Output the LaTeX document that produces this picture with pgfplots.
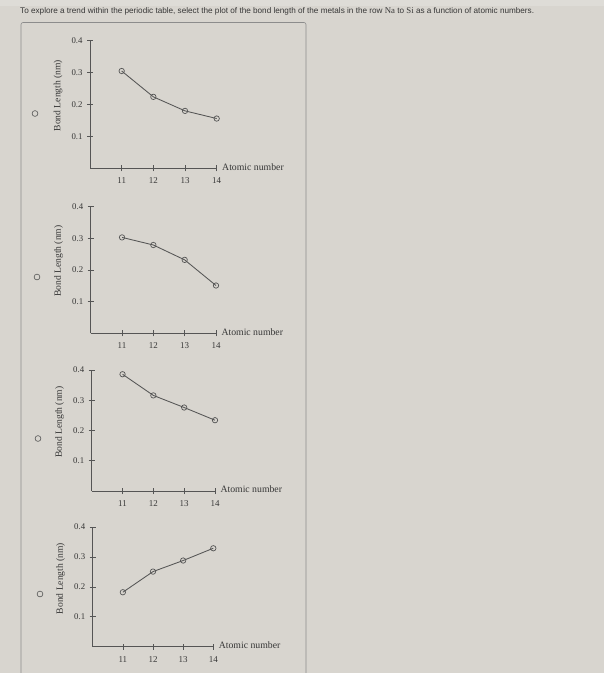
\documentclass[border=0pt]{standalone}
\usepackage{fontspec}
\setmainfont{Liberation Serif}
\newfontfamily\uisans{Liberation Sans}
\usepackage{pgfplots}
\pgfplotsset{compat=1.18}
\definecolor{bg}{RGB}{216,213,207}
\definecolor{bgtop}{RGB}{222,220,215}
\definecolor{linegray}{RGB}{85,85,85}
\definecolor{txt}{RGB}{55,55,55}
\definecolor{boxgray}{RGB}{140,140,140}
\pgfplotsset{
  ser/.style={draw=linegray, line width=0.85bp, mark=o,
      mark size=2.7bp, mark options={solid, draw=linegray, line width=0.7bp, fill=none}},
  panel/.style={
    scale only axis,
    anchor=south west,
    axis lines*=left,
    axis line style={draw=linegray, line width=0.7bp},
    xmin=10, xmax=14, ymin=0, ymax=0.4,
    xtick={11,12,13,14}, ytick={0.1,0.2,0.3,0.4},
    tick align=center, major tick length=6bp,
    tick style={draw=linegray, line width=0.7bp},
    /pgf/number format/assume math mode=true,
    yticklabel style={/pgf/number format/fixed, /pgf/number format/precision=1,
      /pgf/number format/fixed zerofill, font=\fontsize{8.8}{9}\selectfont, text=txt, xshift=-1bp},
    xticklabel style={font=\fontsize{9}{9}\selectfont, text=txt, yshift=-3bp},
    ylabel={Bond Length (nm)},
    every axis y label/.style={at={(rel axis cs:0,0.57)}, xshift=-32bp, rotate=90, anchor=center,
      font=\fontsize{9.6}{10}\selectfont, text=txt},
    clip=false,
    after end axis/.code={\node[anchor=west, font=\fontsize{9.8}{10}\selectfont, text=txt] at (rel axis cs:1,0) [xshift=2bp, yshift=1.5bp] {Atomic number};},
  }
}
\begin{document}
\begin{tikzpicture}
\fill[bg] (0bp,0bp) rectangle (604bp,-673bp);
\fill[bgtop] (0bp,0bp) rectangle (604bp,-6bp);
\useasboundingbox (0bp,0bp) rectangle (604bp,-673bp);
\node[anchor=west, inner sep=0pt, text=txt, font=\uisans\fontsize{8.2}{9}\selectfont] at (20bp,-11bp)
  {To explore a trend within the periodic table, select the plot of the bond length of the metals in the row {\rmfamily\fontsize{8.8}{9}\selectfont Na} to {\rmfamily\fontsize{8.8}{9}\selectfont Si} as a function of atomic numbers.};
\draw[boxgray, line width=0.6bp, rounded corners=2bp] (21bp,-680bp) -- (21bp,-22.5bp) -- (306bp,-22.5bp) -- (306bp,-680bp);

% radio buttons
\foreach \cx/\cy in {35/113.5, 37/277, 38/438.5, 40/594} {
  \draw[linegray, line width=0.6bp] (\cx bp,-\cy bp) circle (2.9bp);
}

\begin{axis}[panel, at={(90bp,-168.3bp)}, width=126.7bp, height=127.6bp]
\addplot[ser] coordinates {(11,0.305) (12,0.224) (13,0.180) (14,0.156)};
\end{axis}

\begin{axis}[panel, at={(90.7bp,-333.3bp)}, width=125.3bp, height=126.6bp]
\addplot[ser] coordinates {(11,0.303) (12,0.279) (13,0.232) (14,0.151)};
\end{axis}

\begin{axis}[panel, at={(91.7bp,-491bp)}, width=123.3bp, height=121bp]
\addplot[ser] coordinates {(11,0.386) (12,0.316) (13,0.276) (14,0.234)};
\end{axis}

\begin{axis}[panel, at={(92.7bp,-646.7bp)}, width=120.6bp, height=119.7bp]
\addplot[ser] coordinates {(11,0.182) (12,0.251) (13,0.288) (14,0.329)};
\end{axis}
\end{tikzpicture}
\end{document}
